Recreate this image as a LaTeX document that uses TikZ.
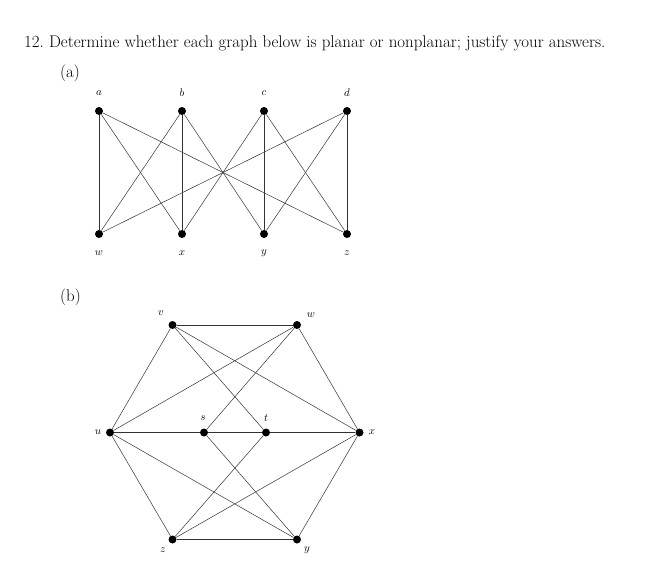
\documentclass[tikz,border=0pt]{standalone}
\begin{document}
\begin{tikzpicture}[x=1pt,y=-1pt,
  vtx/.style={circle,fill=black,inner sep=0pt,minimum size=8pt},
  lbl/.style={font=\fontsize{11}{13}\selectfont,inner sep=0pt},
  ttl/.style={anchor=west,inner sep=0pt,font=\fontsize{16.9}{19}\selectfont},
  edge/.style={black!80,line width=0.5pt}]
\useasboundingbox (0,0) rectangle (648,573);
\node[ttl] (title) at (24,43) {12.\ Determine whether each graph below is planar or nonplanar; justify your answers.};
\node[ttl] (pa) at (60,73) {(a)};
\node[ttl] (pb) at (60,297) {(b)};
% graph a
\foreach \n/\x in {a/99,b/182,c/264,d/347}{
  \node[vtx] (\n) at (\x,111) {};
  \node[lbl] (l\n) at (\x,93) {$\n$};}
\foreach \n/\x in {w/99,x/182,y/264,z/347}{
  \node[vtx] (\n) at (\x,234) {};
  \node[lbl] (l\n) at (\x,253) {$\n$};}
\foreach \p/\q in {a/w,a/x,a/z,b/w,b/x,b/y,c/x,c/y,c/z,d/w,d/y,d/z}
  \draw[edge] (\p) -- (\q);
% graph b
\node[vtx] (V) at (172.5,325) {};
\node[vtx] (W) at (297,325) {};
\node[vtx] (U) at (110,432.5) {};
\node[vtx] (S) at (204,432.5) {};
\node[vtx] (T) at (266,432.5) {};
\node[vtx] (X) at (359.5,432.5) {};
\node[vtx] (Z) at (172.5,539.5) {};
\node[vtx] (Y) at (297,539.5) {};
\node[lbl] (lV) at (161,313) {$v$};
\node[lbl] (lW) at (311,315) {$w$};
\node[lbl] (lU) at (98,432) {$u$};
\node[lbl] (lS) at (203,418) {$s$};
\node[lbl] (lT) at (266,418) {$t$};
\node[lbl] (lX) at (372,432) {$x$};
\node[lbl] (lZ) at (163,550) {$z$};
\node[lbl] (lY) at (307,550) {$y$};
\foreach \p/\q in {V/W,W/X,X/Y,Y/Z,Z/U,U/V,U/S,S/T,T/X,V/T,V/X,W/U,W/S,U/Y,Z/T,Z/X,S/Y}
  \draw[edge] (\p) -- (\q);
\end{tikzpicture}
\end{document}
